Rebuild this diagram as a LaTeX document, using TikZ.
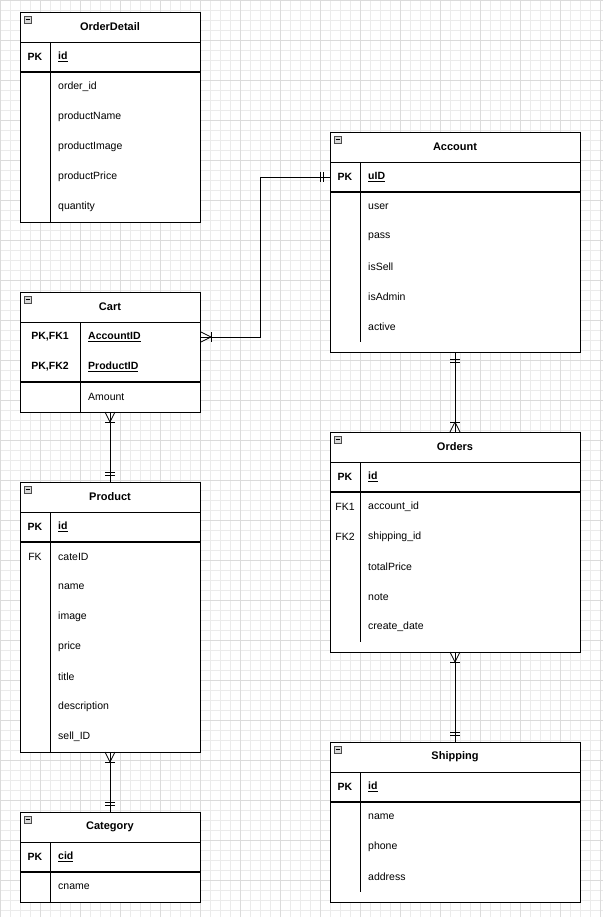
\documentclass[tikz,border=0pt]{standalone}
\usepackage{fontspec}
\setmainfont{Liberation Sans}
\begin{document}
\begin{tikzpicture}[x=1pt,y=-1pt,
  tbl/.style={draw,line width=0.9pt,anchor=north west,inner sep=0pt,fill=white},
  ttl/.style={font=\fontsize{11}{13}\selectfont\bfseries},
  fld/.style={anchor=west,font=\fontsize{10.5}{12}\selectfont,inner sep=0pt},
  key/.style={anchor=center,font=\fontsize{10.5}{12}\selectfont\bfseries,inner sep=0pt},
  fk/.style={anchor=center,font=\fontsize{10.5}{12}\selectfont,inner sep=0pt},
  pkf/.style={fld,font=\fontsize{10.5}{12}\selectfont\bfseries},
  ln/.style={line width=0.9pt},
  conn/.style={line width=0.8pt}]
\useasboundingbox (0,0) rectangle (603,917);
\fill[white] (0,0) rectangle (603,917);
\foreach \i in {0,10,...,600} \draw[black!8,line width=0.5pt] (\i,0) -- (\i,917);
\foreach \i in {0,10,...,910} \draw[black!8,line width=0.5pt] (0,\i) -- (603,\i);
\foreach \i in {0,40,...,600} \draw[black!14,line width=0.5pt] (\i,0) -- (\i,917);
\foreach \i in {0,40,...,910} \draw[black!14,line width=0.5pt] (0,\i) -- (603,\i);

\newcommand\mytable[9]{%
  \node[tbl,minimum width=#5-#3,minimum height=#6-#4] (#1) at (#3,#4) {};
  \draw[ln] (#3,#7) -- (#5,#7);
  \draw[line width=1.4pt] (#3,#8) -- (#5,#8);
  \draw[ln] (#9,#7) -- (#9,\divb);
  \node[ttl] (#1t) at ({(#3+#5)/2},{(#4+#7)/2}) {#2};
  \draw[black!70,fill=black!15,line width=0.5pt] (#3+4,#4+4) rectangle (#3+11,#4+11);
  \draw[line width=0.6pt] (#3+5.5,#4+7.5) -- (#3+9.5,#4+7.5);
}

% OrderDetail
\def\divb{222}
\mytable{od}{OrderDetail}{20}{12}{200}{222}{42}{72}{50}
\node[key] (odk) at (35,57) {PK};
\node[pkf] (odid) at (58,57) {\underline{id}};
\node[fld] (od1) at (58,87) {order\_id};
\node[fld] (od2) at (58,117) {productName};
\node[fld] (od3) at (58,147) {productImage};
\node[fld] (od4) at (58,177) {productPrice};
\node[fld] (od5) at (58,207) {quantity};

% Account
\def\divb{342}
\mytable{acc}{Account}{330}{132}{580}{352}{162}{192}{360}
\node[key] (acck) at (345,177) {PK};
\node[pkf] (accid) at (368,177) {\underline{uID}};
\node[fld] (acc1) at (368,207) {user};
\node[fld] (acc2) at (368,237) {pass};
\node[fld] (acc3) at (368,267) {isSell};
\node[fld] (acc4) at (368,297) {isAdmin};
\node[fld] (acc5) at (368,327) {active};

% Cart
\def\divb{412}
\mytable{cart}{Cart}{20}{292}{200}{412}{322}{382}{80}
\node[key] (ck1) at (50,337) {PK,FK1};
\node[key] (ck2) at (50,367) {PK,FK2};
\node[pkf] (c1) at (88,337) {\underline{AccountID}};
\node[pkf] (c2) at (88,367) {\underline{ProductID}};
\node[fld] (c3) at (88,397) {Amount};

% Product
\def\divb{752}
\mytable{prod}{Product}{20}{482}{200}{752}{512}{542}{50}
\node[key] (pk) at (35,527) {PK};
\node[pkf] (pid) at (58,527) {\underline{id}};
\node[fk] (pfk) at (35,557) {FK};
\node[fld] (p1) at (58,557) {cateID};
\node[fld] (p2) at (58,587) {name};
\node[fld] (p3) at (58,617) {image};
\node[fld] (p4) at (58,647) {price};
\node[fld] (p5) at (58,677) {title};
\node[fld] (p6) at (58,707) {description};
\node[fld] (p7) at (58,737) {sell\_ID};

% Category
\def\divb{902}
\mytable{cat}{Category}{20}{812}{200}{902}{842}{872}{50}
\node[key] (catk) at (35,857) {PK};
\node[pkf] (catid) at (58,857) {\underline{cid}};
\node[fld] (cat1) at (58,887) {cname};

% Orders
\def\divb{642}
\mytable{ord}{Orders}{330}{432}{580}{652}{462}{492}{360}
\node[key] (ok) at (345,477) {PK};
\node[pkf] (oid) at (368,477) {\underline{id}};
\node[fk] (ofk1) at (345,507) {FK1};
\node[fk] (ofk2) at (345,537) {FK2};
\node[fld] (o1) at (368,507) {account\_id};
\node[fld] (o2) at (368,537) {shipping\_id};
\node[fld] (o3) at (368,567) {totalPrice};
\node[fld] (o4) at (368,597) {note};
\node[fld] (o5) at (368,627) {create\_date};

% Shipping
\def\divb{892}
\mytable{ship}{Shipping}{330}{742}{580}{902}{772}{802}{360}
\node[key] (sk) at (345,787) {PK};
\node[pkf] (sid) at (368,787) {\underline{id}};
\node[fld] (s1) at (368,817) {name};
\node[fld] (s2) at (368,847) {phone};
\node[fld] (s3) at (368,877) {address};

% connectors
\coordinate (accL) at (acc.west |- acck);
\coordinate (cartR) at (cart.east |- ck1);
\draw[conn] (accL) -- ++(-70,0) |- (cartR);
\draw[conn] ([xshift=-7]accL) ++(0,-5) -- ++(0,10);
\draw[conn] ([xshift=-10]accL) ++(0,-5) -- ++(0,10);
\draw[conn] ([xshift=10]cartR) -- ([yshift=-5]cartR) ([xshift=10]cartR) -- ([yshift=5]cartR);
\draw[conn] ([xshift=10]cartR) ++(0,-5) -- ++(0,10);

% vertical connectors (yshift is in page sense: negative = down)
\newcommand\vconn[2]{%
  \draw[conn] (#1) -- (#2);
  \draw[conn] ([yshift=-10]#1) -- ([xshift=-5]#1) ([yshift=-10]#1) -- ([xshift=5]#1);
  \draw[conn] ([yshift=-10]#1) ++(-5,0) -- ++(10,0);
  \draw[conn] ([yshift=7]#2) ++(-5,0) -- ++(10,0);
  \draw[conn] ([yshift=10]#2) ++(-5,0) -- ++(10,0);
}
\newcommand\vconnup[2]{%
  \draw[conn] (#1) -- (#2);
  \draw[conn] ([yshift=-7]#1) ++(-5,0) -- ++(10,0);
  \draw[conn] ([yshift=-10]#1) ++(-5,0) -- ++(10,0);
  \draw[conn] ([yshift=10]#2) -- ([xshift=-5]#2) ([yshift=10]#2) -- ([xshift=5]#2);
  \draw[conn] ([yshift=10]#2) ++(-5,0) -- ++(10,0);
}
\coordinate (cb) at (110,412); \coordinate (pt) at (110,482);
\vconn{cb}{pt}
\coordinate (pb) at (110,752); \coordinate (ct) at (110,812);
\vconn{pb}{ct}
\coordinate (ab) at (455,352); \coordinate (ot) at (455,432);
\vconnup{ab}{ot}
\coordinate (ob) at (455,652); \coordinate (st) at (455,742);
\vconn{ob}{st}
\end{tikzpicture}
\end{document}
